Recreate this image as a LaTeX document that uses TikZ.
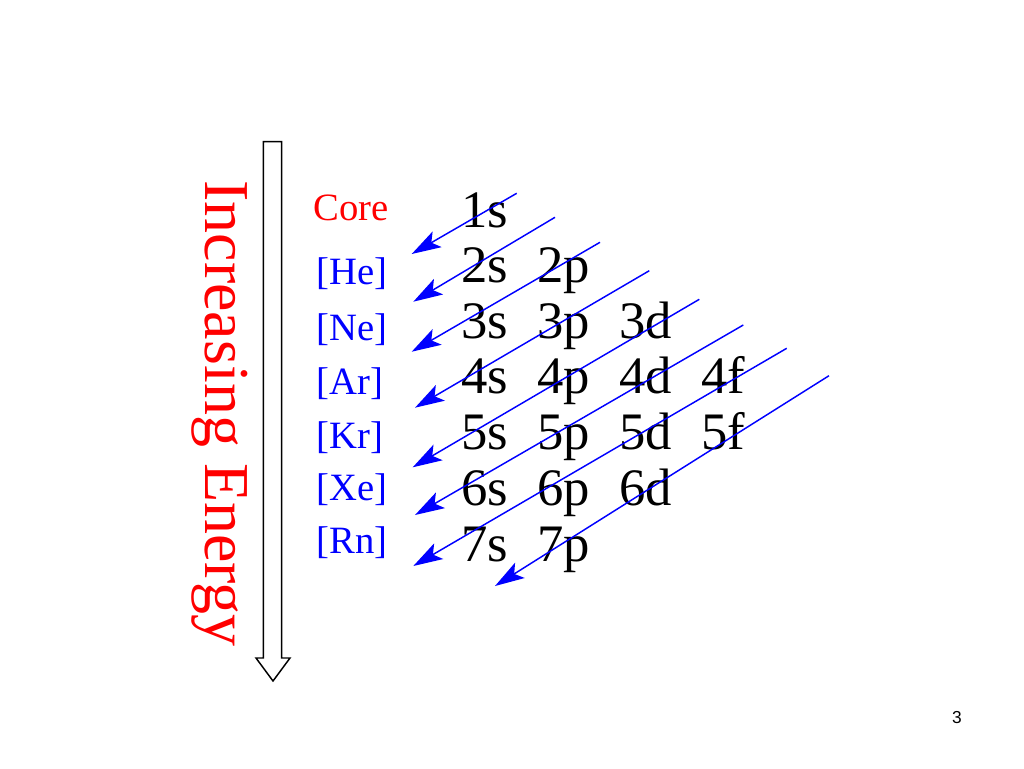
\documentclass[tikz,border=0pt]{standalone}
\usepackage{fontspec}
\setmainfont{Liberation Serif}
\newfontfamily\pagefont{Liberation Sans}
\usetikzlibrary{arrows.meta}

\tikzset{every picture/.style={line width=0.75pt}}
\tikzset{
  orbital/.style={anchor=base west, inner sep=0pt, font=\fontsize{39.5}{46}\selectfont},
  shell/.style={anchor=base west, inner sep=0pt, text=blue, font=\fontsize{29}{35}\selectfont},
  fill order/.style={draw=blue, line width=1.1pt, -{Stealth[length=22pt,width=13.5pt,inset=5pt,fill=blue]}}
}

\begin{document}
\begin{tikzpicture}[x=0.75pt,y=0.75pt,yscale=-1,xscale=1]
	\useasboundingbox (0,0) rectangle (1024,768);

	%Shape: Hollow Down Arrow
	\draw [line width=1.1pt, line join=miter] (263.3,141.7) -- (281.7,141.7) -- (281.7,658) -- (290,658) -- (273,681) -- (256,658) -- (263.3,658) -- cycle ;

	% Text Node
	\node [anchor=base west, inner sep=0pt, rotate=-90, text=red, font=\fontsize{48}{56}\selectfont] (energy) at (205,180) {Increasing Energy};

	% Text Node
	\node [shell, text=red] (core) at (313,220) {Core};
	% Text Node
	\node [shell] (he) at (316,284) {[He]};
	% Text Node
	\node [shell] (ne) at (316,340) {[Ne]};
	% Text Node
	\node [shell] (ar) at (316,394) {[Ar]};
	% Text Node
	\node [shell] (kr) at (316,448) {[Kr]};
	% Text Node
	\node [shell] (xe) at (316,500) {[Xe]};
	% Text Node
	\node [shell] (rn) at (316,553) {[Rn]};

	% Text Node
	\node [orbital] (s1) at (461,227) {1s};
	% Text Node
	\node [orbital] (s2) at (461,282) {2s};
	\node [orbital] (p2) at (537,282) {2p};
	% Text Node
	\node [orbital] (s3) at (461,338) {3s};
	\node [orbital] (p3) at (537,338) {3p};
	\node [orbital] (d3) at (619,338) {3d};
	% Text Node
	\node [orbital] (s4) at (461,393) {4s};
	\node [orbital] (p4) at (537,393) {4p};
	\node [orbital] (d4) at (619,393) {4d};
	\node [orbital] (f4) at (701,393) {4f};
	% Text Node
	\node [orbital] (s5) at (461,449) {5s};
	\node [orbital] (p5) at (537,449) {5p};
	\node [orbital] (d5) at (619,449) {5d};
	\node [orbital] (f5) at (701,449) {5f};
	% Text Node
	\node [orbital] (s6) at (461,505) {6s};
	\node [orbital] (p6) at (537,505) {6p};
	\node [orbital] (d6) at (619,505) {6d};
	% Text Node
	\node [orbital] (s7) at (461,561) {7s};
	\node [orbital] (p7) at (537,561) {7p};

	%Straight Lines: filling order
	\coordinate (a1) at (516.7,193.3); \coordinate (b1) at (411.7,254);
	\coordinate (a2) at (555,217.3);   \coordinate (b2) at (413.3,301.7);
	\coordinate (a3) at (600,242.3);   \coordinate (b3) at (411.7,351.7);
	\coordinate (a4) at (649.3,270.7); \coordinate (b4) at (415,407.7);
	\coordinate (a5) at (699.3,299.3); \coordinate (b5) at (412.7,467.3);
	\coordinate (a6) at (743.3,325);   \coordinate (b6) at (415,515);
	\coordinate (a7) at (786.7,348.3); \coordinate (b7) at (413.3,566);
	\coordinate (a8) at (829,375.7);   \coordinate (b8) at (495,586);
	\draw [fill order] (a1) -- (b1) ;
	\draw [fill order] (a2) -- (b2) ;
	\draw [fill order] (a3) -- (b3) ;
	\draw [fill order] (a4) -- (b4) ;
	\draw [fill order] (a5) -- (b5) ;
	\draw [fill order] (a6) -- (b6) ;
	\draw [fill order] (a7) -- (b7) ;
	\draw [fill order] (a8) -- (b8) ;

	% Text Node
	\node [font=\pagefont\fontsize{13}{15}\selectfont, inner sep=0pt] (pagenum) at (957,718) {3};

\end{tikzpicture}
\end{document}
